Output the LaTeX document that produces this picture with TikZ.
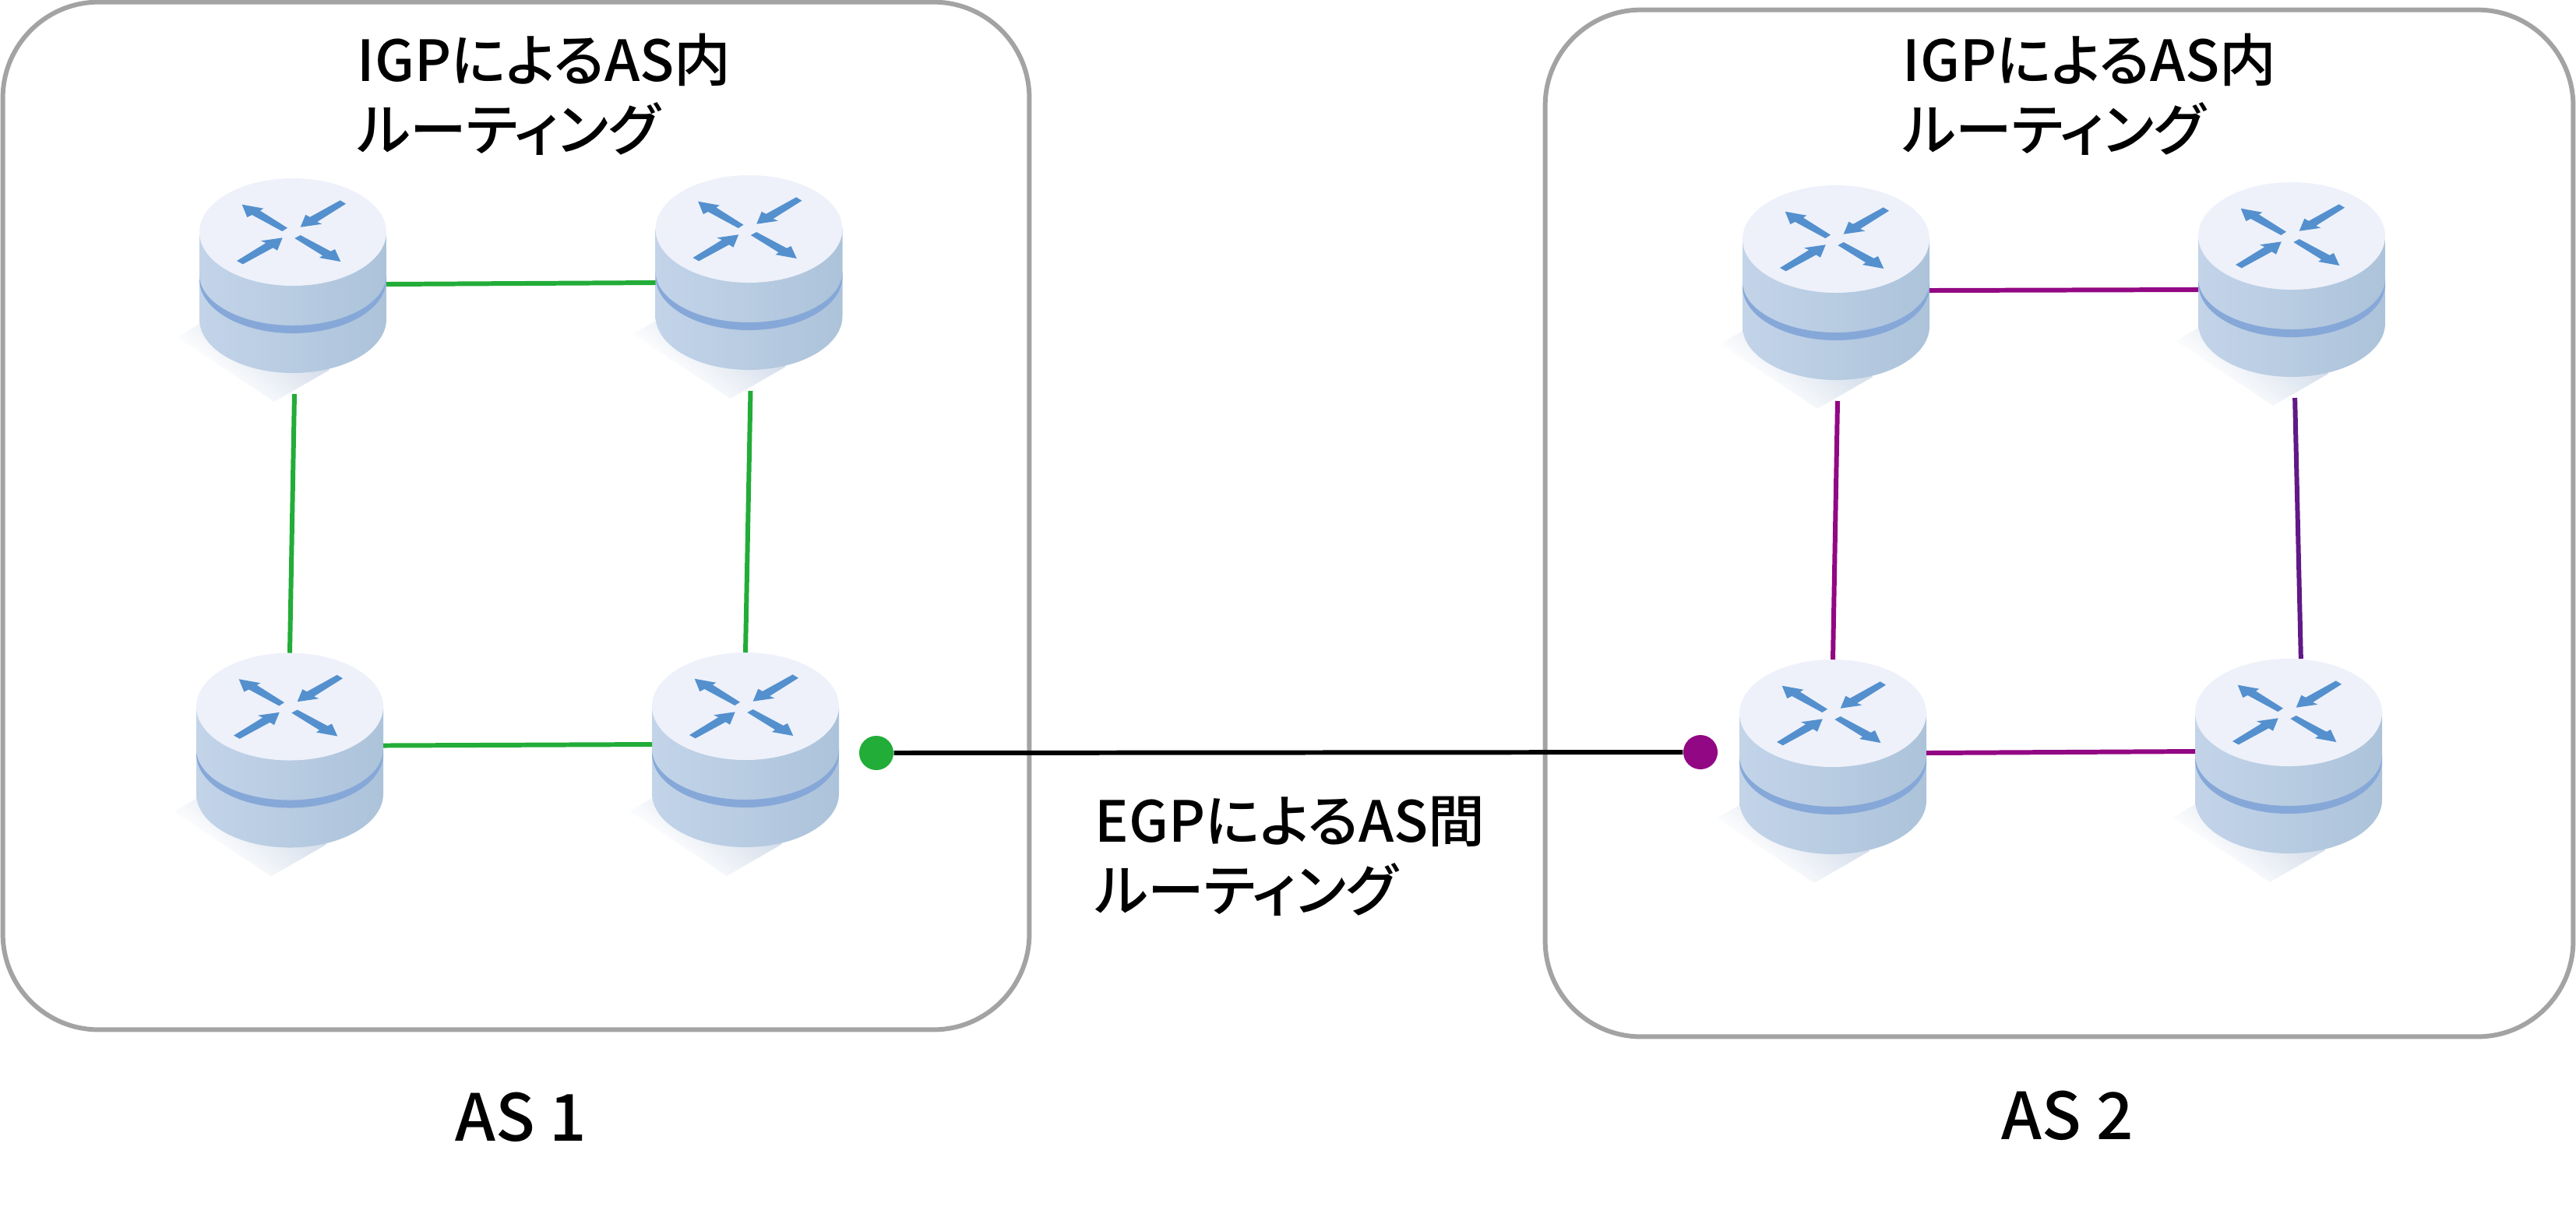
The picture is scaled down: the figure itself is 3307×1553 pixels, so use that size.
\documentclass[tikz,border=0pt]{standalone}
\usepackage{fontspec}
\setmainfont{Noto Sans CJK JP}[UprightFont=* Medium, RawFeature=+palt]
\definecolor{asgray}{HTML}{A3A3A3}
\definecolor{asgreen}{HTML}{22AC38}
\definecolor{aspurple}{HTML}{920783}
\definecolor{asviolet}{HTML}{601986}
\definecolor{rtop}{HTML}{EEF1FA}
\definecolor{rleft}{HTML}{C3D4E9}
\definecolor{rmid}{HTML}{B8CDE3}
\definecolor{rright}{HTML}{ACC3DA}
\definecolor{rband}{HTML}{86A8D8}
\definecolor{rarrow}{HTML}{5490CE}
\definecolor{rshadow}{HTML}{C8D4E5}
\pgfdeclareverticalshading{shadowfade}{100bp}{color(0bp)=(white); color(33bp)=(white); color(75bp)=(rshadow); color(100bp)=(rshadow)}
\begin{document}
\begin{tikzpicture}[x=0.01cm, y=-0.01cm,
    asbox/.style={draw=asgray, line width=1.7pt, rounded corners=35pt},
    lbl/.style={inner sep=0pt, anchor=base west, align=left, font=\fontsize{20.7}{25.3}\selectfont},
    aslbl/.style={inner sep=0pt, anchor=base west, font=\fontsize{23.7}{28}\selectfont},
    link/.style={line width=1.7pt},
    dot/.style={circle, inner sep=0pt, minimum size=0.44cm},
    pics/router/.style={code={
        % 阴影
        \shade[shading=shadowfade, shading angle=-40]
            (-149,135) -- (-24,218) -- (47,177) -- (0,100) -- (-120,118) -- cycle;
        % 机身
        \path[left color=rleft, middle color=rmid, right color=rright]
            (-120,0) -- (-120,112) arc[start angle=180, end angle=0, x radius=120, y radius=69] -- (120,0) -- cycle;
        \fill[rband] (-120,55) arc[start angle=180, end angle=0, x radius=120, y radius=65]
            -- (120,61) arc[start angle=0, end angle=180, x radius=120, y radius=69] -- cycle;
        \fill[rtop] (0,0) ellipse[x radius=120, y radius=69];
        % 箭头
        \fill[rarrow] (-65.3,-35.3) -- (-37.7,-30.3) -- (-42.1,-27.5) -- (-7,-5.3) -- (-13.7,-1) -- (-52.6,-22.1) -- (-58.7,-19) -- cycle;
        \fill[rarrow] (61.3,38) -- (34,33) -- (38.1,30.2) -- (2.3,8) -- (9.7,4) -- (48.6,24.8) -- (54,22) -- cycle;
        \fill[rarrow] (9.7,-6.3) -- (37.3,-10.3) -- (31.2,-13.1) -- (68,-36.3) -- (60.7,-40.7) -- (21.9,-19.2) -- (16.3,-22.3) -- cycle;
        \fill[rarrow] (-13.3,7.3) -- (-41,11.3) -- (-34.8,14.1) -- (-72,37) -- (-64.3,41.3) -- (-25.5,20.2) -- (-20,23.7) -- cycle;
        \coordinate (-n) at (0,-69);
        \coordinate (-s) at (2,208);
        \coordinate (-w) at (-120,#1);
        \coordinate (-e) at (120,#1);
    }}]
    \useasboundingbox (0,0) rectangle (3307,1553);
    % AS
    \node (as1) [asbox, minimum width=13.17cm, minimum height=13.19cm] at (662.5,662.5) {};
    \node (as2) [asbox, minimum width=13.19cm, minimum height=13.18cm] at (2643.5,672) {};
    % 路由器
    \pic (r1) at (376,298) {router=67};
    \pic (r2) at (961.5,294) {router=69};
    \pic (r3) at (372,907.5) {router=50};
    \pic (r4) at (957,907) {router=49};
    \pic (r5) at (2357,307) {router=66};
    \pic (r6) at (2942,303) {router=69};
    \pic (r7) at (2353,916) {router=51};
    \pic (r8) at (2938,915) {router=50};
    % 连线
    \draw[link, asgreen] (r1-e) -- (r2-w);
    \draw[link, asgreen] (r3-e) -- (r4-w);
    \draw[link, asgreen] (r1-s) -- (r3-n);
    \draw[link, asgreen] (r2-s) -- (r4-n);
    \draw[link, aspurple] (r5-e) -- (r6-w);
    \draw[link, aspurple] (r7-e) -- (r8-w);
    \draw[link, aspurple] (r5-s) -- (r7-n);
    \draw[link, asviolet] ([xshift=0.6pt]r6-s) -- ([xshift=4.5pt]r8-n);
    % EGP
    \node (dot1) [dot, fill=asgreen] at (1125,967) {};
    \node (dot2) [dot, fill=aspurple] at (2183,966) {};
    \draw[link, black] (dot1) -- (dot2);
    % 文字
    \node (igp1) [lbl] at (458,193) {IGPによるAS内\\ルーティング};
    \node (igp2) [lbl] at (2442,193) {IGPによるAS内\\ルーティング};
    \node (egp) [lbl] at (1405,1170) {EGPによるAS間\\ルーティング};
    \node (name1) [aslbl] at (584,1465) {AS 1};
    \node (name2) [aslbl] at (2569,1463) {AS 2};
\end{tikzpicture}
\end{document}
